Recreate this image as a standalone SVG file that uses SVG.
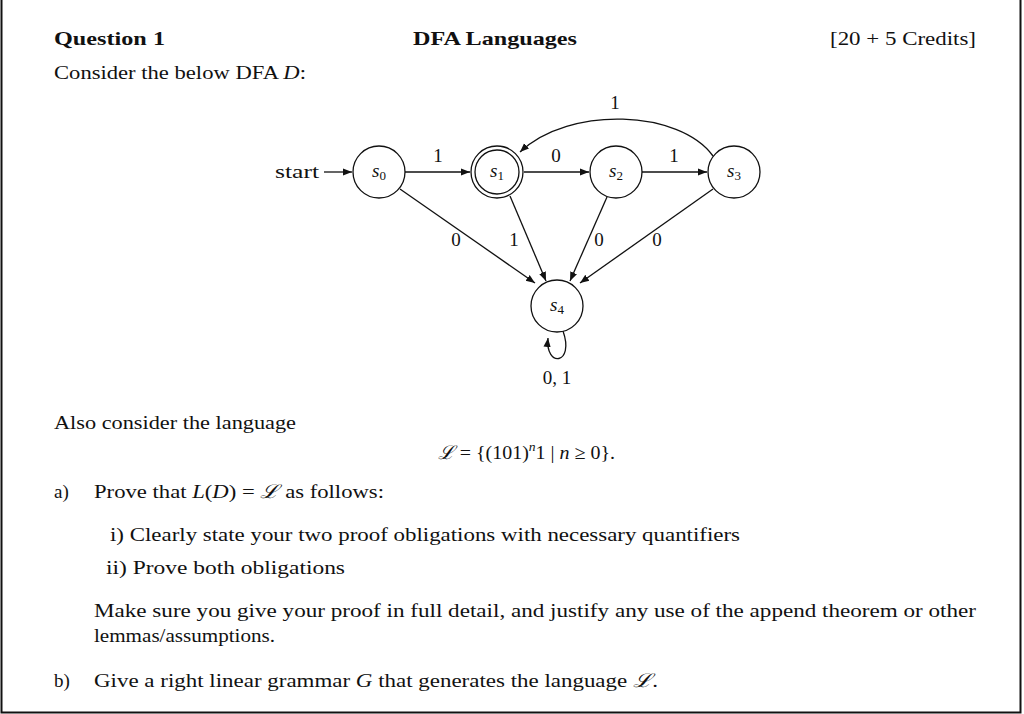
<svg xmlns="http://www.w3.org/2000/svg" width="1024" height="714" viewBox="0 0 1024 714">
<style>
text{font-family:"Liberation Serif","DejaVu Serif",serif;font-size:19px;fill:#111}
.b{font-weight:bold}
.m{font-style:italic}
.st{fill:#fff;stroke:#111;stroke-width:1.3}
.e{fill:none;stroke:#111;stroke-width:1.3;marker-end:url(#a)}
.l{font-size:19px;text-anchor:middle}
</style>
<defs><marker id="a" viewBox="0 0 10 10" refX="10" refY="5" markerWidth="9" markerHeight="9" orient="auto" markerUnits="userSpaceOnUse"><path d="M0,1 L10,5 L0,9 Z" fill="#111"/></marker></defs>
<rect x="0" y="0" width="1024" height="714" fill="#fff"/>
<path d="M1.5,0 V712.5 H1020.5 V0" fill="none" stroke="#111" stroke-width="2"/>
<text x="54" y="45" class="b" textLength="111" lengthAdjust="spacingAndGlyphs">Question 1</text>
<text x="413" y="45" class="b" textLength="164" lengthAdjust="spacingAndGlyphs">DFA Languages</text>
<text x="830" y="45" textLength="146" lengthAdjust="spacingAndGlyphs">[20 + 5 Credits]</text>
<text x="54" y="79" textLength="252" lengthAdjust="spacingAndGlyphs">Consider the below DFA <tspan class="m">D</tspan>:</text>
<g id="edges">
<path class="e" d="M324,172 H352"/>
<path class="e" d="M405,172 H470"/>
<path class="e" d="M524,172 H589"/>
<path class="e" d="M642,172 H707"/>
<path class="e" d="M713,156 C680,110 570,105 520,152"/>
<path class="e" d="M400,189 L535,283"/>
<path class="e" d="M510,196 L546,281"/>
<path class="e" d="M607,197 L570,281"/>
<path class="e" d="M713,189 L580,283"/>
<path class="e" d="M563,331 C575,365 545,368 548,338"/>
<text x="615" y="109" class="l">1</text>
<text x="438" y="162" class="l">1</text>
<text x="556" y="162" class="l">0</text>
<text x="674" y="162" class="l">1</text>
<text x="456" y="246" class="l">0</text>
<text x="514" y="246" class="l">1</text>
<text x="599" y="246" class="l">0</text>
<text x="657" y="246" class="l">0</text>
<text x="557" y="384" class="l">0, 1</text>
<text x="297" y="178" class="l" textLength="44" lengthAdjust="spacingAndGlyphs">start</text>
</g>
<g id="s0"><circle class="st" cx="379" cy="172" r="26"/><text x="379" y="177" class="l m">s<tspan font-size="13" font-style="normal" dy="3">0</tspan></text></g>
<g id="s1"><circle class="st" cx="497" cy="172" r="26"/><circle class="st" cx="497" cy="172" r="22"/><text x="497" y="177" class="l m">s<tspan font-size="13" font-style="normal" dy="3">1</tspan></text></g>
<g id="s2"><circle class="st" cx="616" cy="172" r="26"/><text x="616" y="177" class="l m">s<tspan font-size="13" font-style="normal" dy="3">2</tspan></text></g>
<g id="s3"><circle class="st" cx="734" cy="172" r="26"/><text x="734" y="177" class="l m">s<tspan font-size="13" font-style="normal" dy="3">3</tspan></text></g>
<g id="s4"><circle class="st" cx="557" cy="306" r="26"/><text x="557" y="311" class="l m">s<tspan font-size="13" font-style="normal" dy="3">4</tspan></text></g>
<text x="54" y="429" textLength="242" lengthAdjust="spacingAndGlyphs">Also consider the language</text>
<text x="438" y="459" textLength="177" lengthAdjust="spacingAndGlyphs"><tspan class="m">ℒ</tspan> = {(101)<tspan font-size="13" class="m" dy="-8">n</tspan><tspan dy="8">1 | </tspan><tspan class="m">n</tspan> ≥ 0}.</text>
<text x="54" y="498">a)</text>
<text x="94" y="498" textLength="290" lengthAdjust="spacingAndGlyphs">Prove that <tspan class="m">L</tspan>(<tspan class="m">D</tspan>) = <tspan class="m">ℒ</tspan> as follows:</text>
<text x="110" y="541" textLength="630" lengthAdjust="spacingAndGlyphs">i) Clearly state your two proof obligations with necessary quantifiers</text>
<text x="106" y="574" textLength="239" lengthAdjust="spacingAndGlyphs">ii) Prove both obligations</text>
<text x="94" y="617" textLength="882" lengthAdjust="spacingAndGlyphs">Make sure you give your proof in full detail, and justify any use of the append theorem or other</text>
<text x="94" y="642" textLength="181" lengthAdjust="spacingAndGlyphs">lemmas/assumptions.</text>
<text x="54" y="687">b)</text>
<text x="94" y="687" textLength="564" lengthAdjust="spacingAndGlyphs">Give a right linear grammar <tspan class="m">G</tspan> that generates the language <tspan class="m">ℒ</tspan>.</text>
</svg>
